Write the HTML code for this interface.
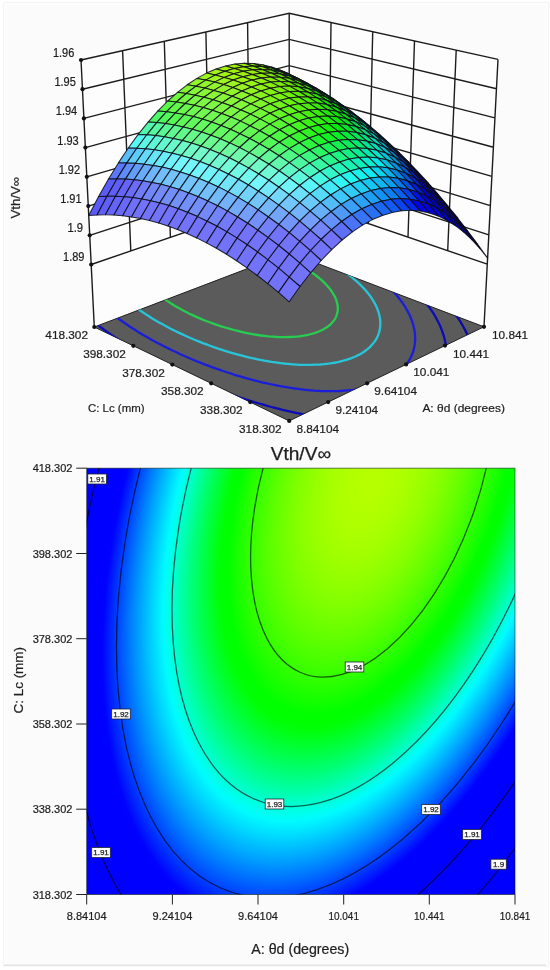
<!DOCTYPE html>
<html><head><meta charset="utf-8"><title>Vth/V∞</title><style>html,body{margin:0;padding:0;background:#ffffff}svg{display:block}</style></head><body>
<svg width="550" height="970" viewBox="0 0 550 970" font-family='"Liberation Sans", Arial, sans-serif' fill="#222">
<rect width="550" height="970" fill="#ffffff"/>
<rect x="3.5" y="2.5" width="545" height="963.5" fill="#fdfdfd" stroke="#f4f4f4" stroke-width="1"/>
<rect x="7" y="5" width="538.5" height="959.5" fill="#fbfbfb"/>
<polygon points="81.0,60.0 289.2,13.2 498.0,59.4 484.0,326.8 289.2,252.7 94.3,327.0" fill="#fdfdfd"/>
<path d="M91.2,264.5L289.2,196.6L487.3,264.2M89.7,235.3L289.2,170.4L488.8,234.9M88.3,206.1L289.2,144.2L490.3,205.7M86.8,176.8L289.2,118.0L491.9,176.4M85.4,147.6L289.2,91.8L493.4,147.2M83.9,118.4L289.2,65.6L494.9,117.9M82.5,89.2L289.2,39.4L496.5,88.7M81.0,60.0L289.2,13.2L498.0,59.4M122.6,50.6L130.8,250.9M331.0,22.4L328.8,210.1M164.3,41.3L170.4,237.3M372.7,31.7L368.4,223.7M205.9,31.9L210.0,223.8M414.5,40.9L408.0,237.2M247.6,22.6L249.6,210.2M456.2,50.2L447.7,250.7M289.2,13.2L289.2,196.6M498.0,59.4L487.3,264.2M81.0,60.0L94.3,327.0M498.0,59.4L484.0,326.8" stroke="#1c1c1c" stroke-width="1.4" fill="none"/>
<polygon points="94.3,327.0 289.2,420.9 484.0,326.8 289.2,252.7" fill="#5b5b5b" stroke="#222" stroke-width="1"/>
<clipPath id="fc"><polygon points="94.3,327.0 289.2,420.9 484.0,326.8 289.2,252.7"/></clipPath>
<g clip-path="url(#fc)" fill="none" stroke-width="2.3">
<path d="M162.7,297.7L164.1,298.8L167.1,300.9L169.7,302.6L171.8,303.9L175.0,305.9L178.4,307.8L180.6,309.1L183.6,310.7L187.2,312.5L190.9,314.4L194.8,316.1L198.7,317.9L202.7,319.6L206.8,321.2L211.0,322.8L213.2,323.6L217.6,325.1L222.1,326.6L226.8,328.0L229.2,328.7L234.0,330.0L236.7,330.7L241.7,331.9L244.6,332.6L249.7,333.6L252.4,334.1L257.7,335.0L261.1,335.5L264.2,335.8L268.4,336.3L273.2,336.7L277.4,337.0L281.0,337.1L284.8,337.1L288.9,337.0L293.0,336.9L296.3,336.6L299.4,336.3L303.7,335.6L307.9,334.8L311.2,334.0L315.2,332.9L319.4,331.3L323.1,329.5L326.4,327.6L327.9,326.5L330.6,324.3L331.8,323.1L333.7,320.8L334.7,319.4L335.5,318.0L336.2,316.4L336.9,314.5L337.4,312.6L337.7,310.9L337.8,309.2L337.8,307.6L337.7,306.0L337.4,304.5L337.1,303.0L336.7,301.6L336.3,300.2L335.7,298.6L334.8,296.6L333.8,294.8L333.0,293.5L332.3,292.3L330.9,290.3L329.6,288.6L328.7,287.5L327.1,285.7L325.6,284.0L324.5,282.9L322.2,280.7L321.0,279.7L318.7,277.7L317.2,276.5L314.8,274.6L313.2,273.5L310.4,271.6L309.0,270.6L306.0,268.7L303.4,267.2L301.4,266.0L298.2,264.2L294.8,262.5L293.2,261.6L289.7,260.0L286.1,258.4L282.4,256.8L278.6,255.2" stroke="#28cc50"/>
<path d="M136.4,307.7L139.3,309.8L140.8,310.9L143.9,313.0L147.0,315.1L148.6,316.1L151.9,318.2L155.2,320.2L158.6,322.2L160.4,323.1L163.9,325.1L167.5,327.0L171.1,328.9L174.8,330.8L178.6,332.6L182.5,334.4L186.4,336.2L190.4,338.0L194.5,339.7L198.6,341.4L202.8,343.1L207.1,344.7L209.3,345.5L213.7,347.1L218.2,348.6L222.8,350.1L225.1,350.8L229.8,352.3L234.5,353.7L237.1,354.4L242.1,355.7L244.6,356.3L249.7,357.6L252.3,358.2L257.7,359.3L260.4,359.9L265.5,360.8L268.8,361.4L271.6,361.9L277.4,362.7L280.6,363.1L283.7,363.5L287.8,363.9L292.6,364.3L296.8,364.6L300.3,364.8L303.9,364.9L307.7,364.9L311.6,364.9L315.7,364.7L320.1,364.5L323.9,364.2L327.1,363.8L330.2,363.4L335.9,362.5L338.7,361.9L343.5,360.7L346.2,359.9L350.8,358.4L354.9,356.7L358.7,354.9L362.2,352.9L365.4,350.8L366.9,349.7L369.6,347.3L370.8,346.1L373.0,343.6L374.0,342.4L375.0,341.0L376.5,338.6L377.3,336.9L378.0,335.5L378.5,334.0L379.1,332.3L379.6,330.4L379.9,328.6L380.2,326.8L380.3,325.1L380.3,323.4L380.3,321.7L380.2,320.1L380.0,318.6L379.7,317.0L379.4,315.5L379.0,314.0L378.6,312.4L377.9,310.5L377.2,308.6L376.5,307.0L375.9,305.6L375.2,304.3L374.3,302.6L373.1,300.5L372.2,299.2L371.4,297.9L370.2,296.2L368.8,294.3L367.8,293.1L366.6,291.6L364.9,289.6L363.8,288.4L362.3,286.8L360.6,285.1L359.5,284.0L357.2,281.8L356.0,280.8L353.7,278.8L352.3,277.6L350.1,275.9L348.5,274.6L346.0,272.8L344.4,271.6L341.7,269.7" stroke="#28c4d8"/>
<path d="M400.9,370.5L403.0,368.4L404.2,367.1L406.3,364.5L407.3,363.2L408.4,361.5L409.9,359.1L410.7,357.6L411.4,356.1L412.1,354.6L412.9,352.4L413.5,350.4L414.0,348.6L414.3,347.0L414.6,345.4L414.8,343.7L415.0,342.1L415.1,340.4L415.2,338.7L415.1,337.0L415.0,335.3L414.9,333.5L414.7,331.8L414.4,330.0L414.0,328.1L413.6,326.5L413.3,325.0L412.8,323.5L412.4,322.1L411.9,320.6L411.1,318.7L410.3,316.7L409.6,315.1L408.9,313.7L408.3,312.4L407.3,310.6L406.1,308.5L405.3,307.2L404.5,305.9L403.4,304.2L402.0,302.2L401.1,301.0L400.2,299.7L398.4,297.5L397.4,296.2L396.4,295.0L394.4,292.7L393.4,291.6L392.1,290.3L390.1,288.2" stroke="#1a1ed8"/>
<path d="M114.8,315.9L117.7,318.1L119.2,319.2L122.2,321.3L124.6,323.0L126.9,324.5L130.0,326.7L133.3,328.8L134.9,329.8L138.2,331.9L141.6,333.9L145.0,335.9L146.8,337.0L150.3,338.9L153.9,340.9L157.5,342.9L161.2,344.8L164.9,346.7L168.7,348.6L172.5,350.5L176.4,352.3L180.4,354.2L184.4,356.0L188.4,357.7L192.5,359.5L196.7,361.2L200.9,362.9L205.2,364.6L207.4,365.4L211.8,367.1L216.2,368.7L220.7,370.2L223.0,371.0L227.6,372.5L232.3,374.0L234.6,374.8L239.4,376.2L244.2,377.6L246.7,378.3L251.7,379.7L254.2,380.3L259.3,381.6L262.0,382.3L267.1,383.4L269.8,384.0L275.2,385.1L277.9,385.7L282.9,386.6L286.4,387.2L289.3,387.7L294.8,388.5L298.2,388.9L301.2,389.3L305.5,389.8L310.5,390.3L314.0,390.6L317.4,390.8L320.8,391.0L324.4,391.1L328.3,391.2L332.3,391.2L336.2,391.1L339.9,391.0L344.1,390.7L348.7,390.3L353.4,389.8L356.5,389.4L359.4,388.9L365.1,387.8" stroke="#1a1ed8"/>
<path d="M446.3,348.5L446.1,346.8L445.9,345.2L445.6,343.6L445.3,342.1L444.9,340.4L444.5,338.5L444.0,336.6L443.4,334.7L442.8,333.0L442.3,331.6L441.8,330.1L441.2,328.7L440.5,326.8L439.6,324.8L438.8,323.2L438.1,321.8L437.4,320.5L436.4,318.6L435.3,316.5L434.5,315.2L433.7,313.9L432.6,312.2L431.3,310.1L430.4,308.9L429.5,307.6L427.9,305.5L426.8,304.0L425.9,302.8L424.3,300.9" stroke="#0c0cb8"/>
<path d="M213.0,387.8L215.4,388.7L219.8,390.4L224.2,392.0L228.7,393.6L231.0,394.4L235.5,396.0L240.1,397.6L242.5,398.3L247.2,399.9L251.9,401.3L254.3,402.1L259.1,403.5L263.3,404.7L266.5,405.6L271.5,407.0L274.0,407.6L279.1,408.9L281.7,409.6L286.9,410.8L289.5,411.4L294.9,412.6L297.6,413.1L302.3,414.1L305.8,414.7" stroke="#0c0cb8"/>
<path d="M95.5,323.2L96.9,324.3L98.4,325.4L98.9,325.9L99.8,326.6L101.3,327.7L102.8,328.8L104.3,329.9L105.1,330.5L105.8,331.0L107.3,332.1L108.9,333.2L110.4,334.3L112.0,335.4L112.6,335.8L113.6,336.5L115.1,337.6L116.7,338.6L118.4,339.7L120.0,340.8L121.6,341.8L121.7,341.9L123.3,342.9L124.9,344.0L126.6,345.0L128.3,346.1L130.0,347.1L131.7,348.2L133.4,349.2L134.2,349.7" stroke="#0c0cb8"/>
<path d="M468.7,337.6L468.1,336.2L467.9,335.8L467.4,334.8L466.9,333.8L466.8,333.4L466.1,332.1L465.9,331.7L465.4,330.7L464.8,329.6L464.7,329.3L464.0,328.0L463.7,327.4L463.3,326.7L462.5,325.3L462.5,325.3L461.8,324.0L461.2,323.1L461.0,322.7L460.2,321.4L459.9,320.9L459.4,320.2L458.6,318.9L458.5,318.7L457.7,317.6L457.0,316.5L456.9,316.4L456.0,315.1L455.4,314.3L455.1,313.9L454.2,312.6L453.8,312.0" stroke="#0a0aa8"/>
</g>
<g stroke="#0c0c18" stroke-opacity="0.88" stroke-width="1.05" stroke-linejoin="round">
<path d="M289.2,74.1L298.0,78.7L289.2,74.6L280.4,70.3z" fill="#12a700"/>
<path d="M280.3,70.6L289.2,74.1L280.4,70.3L271.5,67.0z" fill="#32be00"/>
<path d="M298.1,78.4L306.8,83.2L298.0,78.7L289.2,74.1z" fill="#0aa400"/>
<path d="M289.2,74.6L298.1,78.4L289.2,74.1L280.3,70.6z" fill="#2abc00"/>
<path d="M271.3,68.0L280.3,70.6L271.5,67.0L262.5,64.7z" fill="#52d000"/>
<path d="M307.1,83.1L315.8,88.1L306.8,83.2L298.1,78.4z" fill="#00a200"/>
<path d="M262.2,66.5L271.3,68.0L262.5,64.7L253.4,63.5z" fill="#6edc01"/>
<path d="M280.3,71.8L289.2,74.6L280.3,70.6L271.3,68.0z" fill="#4ace00"/>
<path d="M298.2,79.0L307.1,83.1L298.1,78.4L289.2,74.6z" fill="#20ba00"/>
<path d="M316.1,88.2L324.8,93.5L315.8,88.1L307.1,83.1z" fill="#00a014"/>
<path d="M271.2,70.1L280.3,71.8L271.3,68.0L262.2,66.5z" fill="#67db01"/>
<path d="M307.3,83.9L316.1,88.2L307.1,83.1L298.2,79.0z" fill="#15b800"/>
<path d="M253.0,66.1L262.2,66.5L253.4,63.5L244.2,63.2z" fill="#85e403"/>
<path d="M289.3,76.0L298.2,79.0L289.2,74.6L280.3,71.8z" fill="#41cd00"/>
<path d="M325.2,93.7L333.9,99.3L324.8,93.5L316.1,88.2z" fill="#009d2a"/>
<path d="M243.7,66.7L253.0,66.1L244.2,63.2L234.9,64.1z" fill="#95ea05"/>
<path d="M262.0,69.4L271.2,70.1L262.2,66.5L253.0,66.1z" fill="#7fe402"/>
<path d="M280.2,74.0L289.3,76.0L280.3,71.8L271.2,70.1z" fill="#5fda01"/>
<path d="M298.3,80.6L307.3,83.9L298.2,79.0L289.3,76.0z" fill="#35cb00"/>
<path d="M316.4,89.2L325.2,93.7L316.1,88.2L307.3,83.9z" fill="#08b600"/>
<path d="M334.4,99.7L343.0,105.6L333.9,99.3L325.2,93.7z" fill="#009b42"/>
<path d="M234.3,68.4L243.7,66.7L234.9,64.1L225.5,66.0z" fill="#9fee0a"/>
<path d="M252.7,69.7L262.0,69.4L253.0,66.1L243.7,66.7z" fill="#91ea05"/>
<path d="M271.0,73.0L280.2,74.0L271.2,70.1L262.0,69.4z" fill="#78e302"/>
<path d="M289.3,78.3L298.3,80.6L289.3,76.0L280.2,74.0z" fill="#54d901"/>
<path d="M307.5,85.6L316.4,89.2L307.3,83.9L298.3,80.6z" fill="#28c900"/>
<path d="M325.7,94.9L334.4,99.7L325.2,93.7L316.4,89.2z" fill="#00b40d"/>
<path d="M343.7,106.2L352.3,112.3L343.0,105.6L334.4,99.7z" fill="#00985c"/>
<path d="M224.9,71.2L234.3,68.4L225.5,66.0L216.0,69.0z" fill="#a3f010"/>
<path d="M243.3,71.2L252.7,69.7L243.7,66.7L234.3,68.4z" fill="#9dee09"/>
<path d="M261.7,73.2L271.0,73.0L262.0,69.4L252.7,69.7z" fill="#8be905"/>
<path d="M280.1,77.2L289.3,78.3L280.2,74.0L271.0,73.0z" fill="#6ee202"/>
<path d="M298.5,83.2L307.5,85.6L298.3,80.6L289.3,78.3z" fill="#47d701"/>
<path d="M316.8,91.1L325.7,94.9L316.4,89.2L307.5,85.6z" fill="#19c800"/>
<path d="M335.0,101.1L343.7,106.2L334.4,99.7L325.7,94.9z" fill="#00b22a"/>
<path d="M353.0,113.1L361.6,119.4L352.3,112.3L343.7,106.2z" fill="#009678"/>
<path d="M215.3,75.0L224.9,71.2L216.0,69.0L206.5,73.1z" fill="#a1f218"/>
<path d="M233.8,73.7L243.3,71.2L234.3,68.4L224.9,71.2z" fill="#a2f00f"/>
<path d="M252.3,74.4L261.7,73.2L252.7,69.7L243.3,71.2z" fill="#98ed09"/>
<path d="M270.8,77.0L280.1,77.2L271.0,73.0L261.7,73.2z" fill="#83e904"/>
<path d="M289.3,81.7L298.5,83.2L289.3,78.3L280.1,77.2z" fill="#62e102"/>
<path d="M307.7,88.4L316.8,91.1L307.5,85.6L298.5,83.2z" fill="#39d601"/>
<path d="M326.1,97.1L335.0,101.1L325.7,94.9L316.8,91.1z" fill="#09c600"/>
<path d="M344.3,107.8L353.0,113.1L343.7,106.2L335.0,101.1z" fill="#00b04a"/>
<path d="M362.4,120.5L370.9,127.1L361.6,119.4L353.0,113.1z" fill="#009293"/>
<path d="M205.7,80.1L215.3,75.0L206.5,73.1L196.9,78.4z" fill="#9bf421"/>
<path d="M224.2,77.4L233.8,73.7L224.9,71.2L215.3,75.0z" fill="#a2f217"/>
<path d="M242.8,76.7L252.3,74.4L243.3,71.2L233.8,73.7z" fill="#9ff00f"/>
<path d="M261.4,78.0L270.8,77.0L261.7,73.2L252.3,74.4z" fill="#91ed08"/>
<path d="M280.0,81.4L289.3,81.7L280.1,77.2L270.8,77.0z" fill="#78e804"/>
<path d="M298.6,86.7L307.7,88.4L298.5,83.2L289.3,81.7z" fill="#55e002"/>
<path d="M317.1,94.1L326.1,97.1L316.8,91.1L307.7,88.4z" fill="#28d501"/>
<path d="M335.5,103.5L344.3,107.8L335.0,101.1L326.1,97.1z" fill="#00c412"/>
<path d="M353.8,114.9L362.4,120.5L353.0,113.1L344.3,107.8z" fill="#00ae6c"/>
<path d="M371.9,128.4L380.3,135.2L370.9,127.1L362.4,120.5z" fill="#007491"/>
<path d="M214.6,82.1L224.2,77.4L215.3,75.0L205.7,80.1z" fill="#9df421"/>
<path d="M251.9,80.1L261.4,78.0L252.3,74.4L242.8,76.7z" fill="#9af00e"/>
<path d="M289.3,86.1L298.6,86.7L289.3,81.7L280.0,81.4z" fill="#6ce704"/>
<path d="M326.5,100.3L335.5,103.5L326.1,97.1L317.1,94.1z" fill="#16d301"/>
<path d="M363.3,122.5L371.9,128.4L362.4,120.5L353.8,114.9z" fill="#00ab91"/>
<path d="M196.0,86.2L205.7,80.1L196.9,78.4L187.2,84.8z" fill="#90f52b"/>
<path d="M233.2,80.1L242.8,76.7L233.8,73.7L224.2,77.4z" fill="#a1f217"/>
<path d="M270.6,82.1L280.0,81.4L270.8,77.0L261.4,78.0z" fill="#88ed08"/>
<path d="M308.0,92.2L317.1,94.1L307.7,88.4L298.6,86.7z" fill="#45df02"/>
<path d="M345.0,110.4L353.8,114.9L344.3,107.8L335.5,103.5z" fill="#00c237"/>
<path d="M381.4,136.7L389.8,143.8L380.3,135.2L371.9,128.4z" fill="#00568e"/>
<path d="M186.2,93.5L196.0,86.2L187.2,84.8L177.5,92.3z" fill="#81f635"/>
<path d="M204.8,88.1L214.6,82.1L205.7,80.1L196.0,86.2z" fill="#93f52c"/>
<path d="M223.6,84.6L233.2,80.1L224.2,77.4L214.6,82.1z" fill="#9df421"/>
<path d="M242.3,83.3L251.9,80.1L242.8,76.7L233.2,80.1z" fill="#9df216"/>
<path d="M261.1,83.9L270.6,82.1L261.4,78.0L251.9,80.1z" fill="#93f00e"/>
<path d="M279.9,86.6L289.3,86.1L280.0,81.4L270.6,82.1z" fill="#7dec07"/>
<path d="M298.7,91.3L308.0,92.2L298.6,86.7L289.3,86.1z" fill="#5de703"/>
<path d="M317.4,98.1L326.5,100.3L317.1,94.1L308.0,92.2z" fill="#33de01"/>
<path d="M336.0,106.9L345.0,110.4L335.5,103.5L326.5,100.3z" fill="#02d200"/>
<path d="M354.5,117.7L363.3,122.5L353.8,114.9L345.0,110.4z" fill="#00c05e"/>
<path d="M372.9,130.6L381.4,136.7L371.9,128.4L363.3,122.5z" fill="#009ea9"/>
<path d="M391.0,145.5L399.4,152.9L389.8,143.8L381.4,136.7z" fill="#00368c"/>
<path d="M232.7,87.6L242.3,83.3L233.2,80.1L223.6,84.6z" fill="#9bf421"/>
<path d="M270.4,88.2L279.9,86.6L270.6,82.1L261.1,83.9z" fill="#89ef0d"/>
<path d="M308.2,97.0L317.4,98.1L308.0,92.2L298.7,91.3z" fill="#4ce603"/>
<path d="M345.6,114.0L354.5,117.7L345.0,110.4L336.0,106.9z" fill="#00d027"/>
<path d="M176.4,102.0L186.2,93.5L177.5,92.3L167.7,101.0z" fill="#6ff63e"/>
<path d="M195.1,95.2L204.8,88.1L196.0,86.2L186.2,93.5z" fill="#86f636"/>
<path d="M213.8,90.4L223.6,84.6L214.6,82.1L204.8,88.1z" fill="#95f52c"/>
<path d="M251.5,86.9L261.1,83.9L251.9,80.1L242.3,83.3z" fill="#97f216"/>
<path d="M289.3,91.6L298.7,91.3L289.3,86.1L279.9,86.6z" fill="#70ec07"/>
<path d="M326.9,104.5L336.0,106.9L326.5,100.3L317.4,98.1z" fill="#1fdd01"/>
<path d="M364.1,125.6L372.9,130.6L363.3,122.5L354.5,117.7z" fill="#00be88"/>
<path d="M382.5,139.2L391.0,145.5L381.4,136.7L372.9,130.6z" fill="#007aa7"/>
<path d="M400.7,154.9L409.0,162.5L399.4,152.9L391.0,145.5z" fill="#001689"/>
<path d="M166.6,111.7L176.4,102.0L167.7,101.0L157.9,110.9z" fill="#59f747"/>
<path d="M185.2,103.5L195.1,95.2L186.2,93.5L176.4,102.0z" fill="#76f640"/>
<path d="M204.0,97.2L213.8,90.4L204.8,88.1L195.1,95.2z" fill="#89f637"/>
<path d="M222.9,93.1L232.7,87.6L223.6,84.6L213.8,90.4z" fill="#95f52c"/>
<path d="M241.9,91.0L251.5,86.9L242.3,83.3L232.7,87.6z" fill="#97f420"/>
<path d="M260.8,90.9L270.4,88.2L261.1,83.9L251.5,86.9z" fill="#8ff215"/>
<path d="M279.8,92.9L289.3,91.6L279.9,86.6L270.4,88.2z" fill="#7def0c"/>
<path d="M298.8,97.0L308.2,97.0L298.7,91.3L289.3,91.6z" fill="#60eb06"/>
<path d="M317.7,103.1L326.9,104.5L317.4,98.1L308.2,97.0z" fill="#39e503"/>
<path d="M336.5,111.3L345.6,114.0L336.0,106.9L326.9,104.5z" fill="#09dc01"/>
<path d="M355.3,121.6L364.1,125.6L354.5,117.7L345.6,114.0z" fill="#00ce53"/>
<path d="M373.8,133.9L382.5,139.2L372.9,130.6L364.1,125.6z" fill="#00bcb5"/>
<path d="M392.2,148.3L400.7,154.9L391.0,145.5L382.5,139.2z" fill="#0054a4"/>
<path d="M410.4,164.7L418.6,172.6L409.0,162.5L400.7,154.9z" fill="#000087"/>
<path d="M156.7,122.6L166.6,111.7L157.9,110.9L148.1,122.1z" fill="#4df765"/>
<path d="M175.4,112.9L185.2,103.5L176.4,102.0L166.6,111.7z" fill="#62f749"/>
<path d="M194.2,105.3L204.0,97.2L195.1,95.2L185.2,103.5z" fill="#7bf642"/>
<path d="M213.1,99.7L222.9,93.1L213.8,90.4L204.0,97.2z" fill="#8bf638"/>
<path d="M232.1,96.2L241.9,91.0L232.7,87.6L222.9,93.1z" fill="#92f52c"/>
<path d="M251.2,94.8L260.8,90.9L251.5,86.9L241.9,91.0z" fill="#90f31f"/>
<path d="M270.2,95.4L279.8,92.9L270.4,88.2L260.8,90.9z" fill="#85f214"/>
<path d="M289.3,98.1L298.8,97.0L289.3,91.6L279.8,92.9z" fill="#6fef0b"/>
<path d="M308.4,102.9L317.7,103.1L308.2,97.0L298.8,97.0z" fill="#4eeb06"/>
<path d="M327.4,109.7L336.5,111.3L326.9,104.5L317.7,103.1z" fill="#24e403"/>
<path d="M346.2,118.7L355.3,121.6L345.6,114.0L336.5,111.3z" fill="#01db1e"/>
<path d="M365.0,129.6L373.8,133.9L364.1,125.6L355.3,121.6z" fill="#00cd82"/>
<path d="M383.6,142.7L392.2,148.3L382.5,139.2L373.8,133.9z" fill="#0099ba"/>
<path d="M402.0,157.8L410.4,164.7L400.7,154.9L392.2,148.3z" fill="#002da2"/>
<path d="M420.2,175.0L428.3,183.2L418.6,172.6L410.4,164.7z" fill="#000084"/>
<path d="M146.8,134.8L156.7,122.6L148.1,122.1L138.2,134.4z" fill="#52f7ab"/>
<path d="M165.4,123.6L175.4,112.9L166.6,111.7L156.7,122.6z" fill="#51f75b"/>
<path d="M184.3,114.6L194.2,105.3L185.2,103.5L175.4,112.9z" fill="#69f74c"/>
<path d="M203.2,107.6L213.1,99.7L204.0,97.2L194.2,105.3z" fill="#7ef744"/>
<path d="M222.3,102.7L232.1,96.2L222.9,93.1L213.1,99.7z" fill="#8af639"/>
<path d="M241.4,99.8L251.2,94.8L241.9,91.0L232.1,96.2z" fill="#8df52b"/>
<path d="M260.6,99.1L270.2,95.4L260.8,90.9L251.2,94.8z" fill="#88f31e"/>
<path d="M279.7,100.4L289.3,98.1L279.8,92.9L270.2,95.4z" fill="#78f113"/>
<path d="M298.9,103.8L308.4,102.9L298.8,97.0L289.3,98.1z" fill="#5eee0b"/>
<path d="M318.0,109.3L327.4,109.7L317.7,103.1L308.4,102.9z" fill="#3aea05"/>
<path d="M337.1,116.8L346.2,118.7L336.5,111.3L327.4,109.7z" fill="#0de302"/>
<path d="M356.0,126.5L365.0,129.6L355.3,121.6L346.2,118.7z" fill="#01d94d"/>
<path d="M374.8,138.2L383.6,142.7L373.8,133.9L365.0,129.6z" fill="#00cbb3"/>
<path d="M393.4,152.0L402.0,157.8L392.2,148.3L383.6,142.7z" fill="#006eb8"/>
<path d="M411.8,167.9L420.2,175.0L410.4,164.7L402.0,157.8z" fill="#0005a0"/>
<path d="M430.0,185.9L438.1,194.3L428.3,183.2L420.2,175.0z" fill="#000082"/>
<path d="M136.8,148.2L146.8,134.8L138.2,134.4L128.3,148.0z" fill="#56f8f4"/>
<path d="M155.5,135.6L165.4,123.6L156.7,122.6L146.8,134.8z" fill="#56f89e"/>
<path d="M174.3,125.1L184.3,114.6L175.4,112.9L165.4,123.6z" fill="#54f754"/>
<path d="M193.3,116.6L203.2,107.6L194.2,105.3L184.3,114.6z" fill="#6ef74e"/>
<path d="M212.4,110.3L222.3,102.7L213.1,99.7L203.2,107.6z" fill="#7ff745"/>
<path d="M231.5,106.0L241.4,99.8L232.1,96.2L222.3,102.7z" fill="#87f639"/>
<path d="M250.8,103.9L260.6,99.1L251.2,94.8L241.4,99.8z" fill="#87f52b"/>
<path d="M270.1,103.8L279.7,100.4L270.2,95.4L260.6,99.1z" fill="#7df31d"/>
<path d="M289.3,105.8L298.9,103.8L289.3,98.1L279.7,100.4z" fill="#6af112"/>
<path d="M308.6,109.9L318.0,109.3L308.4,102.9L298.9,103.8z" fill="#4cee0a"/>
<path d="M327.8,116.1L337.1,116.8L327.4,109.7L318.0,109.3z" fill="#24e905"/>
<path d="M346.9,124.4L356.0,126.5L346.2,118.7L337.1,116.8z" fill="#02e21d"/>
<path d="M365.8,134.8L374.8,138.2L365.0,129.6L356.0,126.5z" fill="#01d880"/>
<path d="M384.7,147.3L393.4,152.0L383.6,142.7L374.8,138.2z" fill="#00b1c9"/>
<path d="M403.3,161.9L411.8,167.9L402.0,157.8L393.4,152.0z" fill="#0042b6"/>
<path d="M421.7,178.6L430.0,185.9L420.2,175.0L411.8,167.9z" fill="#00009d"/>
<path d="M439.9,197.3L447.9,206.0L438.1,194.3L430.0,185.9z" fill="#00007f"/>
<path d="M145.5,148.8L155.5,135.6L146.8,134.8L136.8,148.2z" fill="#5bf8e4"/>
<path d="M183.3,126.9L193.3,116.6L184.3,114.6L174.3,125.1z" fill="#5bf857"/>
<path d="M221.6,113.4L231.5,106.0L222.3,102.7L212.4,110.3z" fill="#7ef746"/>
<path d="M260.3,108.4L270.1,103.8L260.6,99.1L250.8,103.9z" fill="#7ef52a"/>
<path d="M279.7,109.0L289.3,105.8L279.7,100.4L270.1,103.8z" fill="#70f31c"/>
<path d="M299.0,111.7L308.6,109.9L298.9,103.8L289.3,105.8z" fill="#58f111"/>
<path d="M318.3,116.5L327.8,116.1L318.0,109.3L308.6,109.9z" fill="#37ee09"/>
<path d="M356.7,132.5L365.8,134.8L356.0,126.5L346.9,124.4z" fill="#02e150"/>
<path d="M394.6,156.9L403.3,161.9L393.4,152.0L384.7,147.3z" fill="#0082c7"/>
<path d="M431.7,189.7L439.9,197.3L430.0,185.9L421.7,178.6z" fill="#00009b"/>
<path d="M126.9,162.9L136.8,148.2L128.3,148.0L118.4,162.9z" fill="#59bcf8"/>
<path d="M164.3,136.8L174.3,125.1L165.4,123.6L155.5,135.6z" fill="#5af895"/>
<path d="M202.4,119.1L212.4,110.3L203.2,107.6L193.3,116.6z" fill="#71f750"/>
<path d="M240.9,109.9L250.8,103.9L241.4,99.8L231.5,106.0z" fill="#82f638"/>
<path d="M337.6,123.5L346.9,124.4L337.1,116.8L327.8,116.1z" fill="#0be904"/>
<path d="M375.7,143.6L384.7,147.3L374.8,138.2L365.8,134.8z" fill="#01d6b5"/>
<path d="M413.2,172.2L421.7,178.6L411.8,167.9L403.3,161.9z" fill="#0013b4"/>
<path d="M449.8,209.3L457.8,218.2L447.9,206.0L439.9,197.3z" fill="#00007d"/>
<path d="M135.5,163.3L145.5,148.8L136.8,148.2L126.9,162.9z" fill="#5dcdf8"/>
<path d="M173.2,138.5L183.3,126.9L174.3,125.1L164.3,136.8z" fill="#5ef88f"/>
<path d="M211.6,122.1L221.6,113.4L212.4,110.3L202.4,119.1z" fill="#72f752"/>
<path d="M250.4,114.1L260.3,108.4L250.8,103.9L240.9,109.9z" fill="#7bf638"/>
<path d="M289.3,114.7L299.0,111.7L289.3,105.8L279.7,109.0z" fill="#61f31a"/>
<path d="M328.2,123.6L337.6,123.5L327.8,116.1L318.3,116.5z" fill="#20ed08"/>
<path d="M366.7,141.1L375.7,143.6L365.8,134.8L356.7,132.5z" fill="#02e085"/>
<path d="M404.6,167.0L413.2,172.2L403.3,161.9L394.6,156.9z" fill="#0051c5"/>
<path d="M441.7,201.4L449.8,209.3L439.9,197.3L431.7,189.7z" fill="#000098"/>
<path d="M116.9,178.9L126.9,162.9L118.4,162.9L108.5,179.1z" fill="#5a79f8"/>
<path d="M154.3,149.8L164.3,136.8L155.5,135.6L145.5,148.8z" fill="#5ff8d7"/>
<path d="M192.4,129.2L202.4,119.1L193.3,116.6L183.3,126.9z" fill="#60f85a"/>
<path d="M231.0,117.1L240.9,109.9L231.5,106.0L221.6,113.4z" fill="#7bf746"/>
<path d="M269.9,113.3L279.7,109.0L270.1,103.8L260.3,108.4z" fill="#73f428"/>
<path d="M308.8,118.1L318.3,116.5L308.6,109.9L299.0,111.7z" fill="#45f010"/>
<path d="M347.5,131.3L356.7,132.5L346.9,124.4L337.6,123.5z" fill="#04e827"/>
<path d="M385.7,153.0L394.6,156.9L384.7,147.3L375.7,143.6z" fill="#01c0d5"/>
<path d="M423.2,183.1L431.7,189.7L421.7,178.6L413.2,172.2z" fill="#0000b1"/>
<path d="M459.8,221.8L467.7,231.0L457.8,218.2L449.8,209.3z" fill="#00007a"/>
<path d="M107.0,196.2L116.9,178.9L108.5,179.1L98.6,196.6z" fill="#5b5bf8"/>
<path d="M125.5,179.1L135.5,163.3L126.9,162.9L116.9,178.9z" fill="#5f8cf8"/>
<path d="M144.2,164.2L154.3,149.8L145.5,148.8L135.5,163.3z" fill="#62daf8"/>
<path d="M163.2,151.3L173.2,138.5L164.3,136.8L154.3,149.8z" fill="#63f8ce"/>
<path d="M182.3,140.6L192.4,129.2L183.3,126.9L173.2,138.5z" fill="#62f88b"/>
<path d="M201.6,132.0L211.6,122.1L202.4,119.1L192.4,129.2z" fill="#63f85d"/>
<path d="M221.0,125.5L231.0,117.1L221.6,113.4L211.6,122.1z" fill="#71f753"/>
<path d="M240.4,121.1L250.4,114.1L240.9,109.9L231.0,117.1z" fill="#76f746"/>
<path d="M260.0,118.9L269.9,113.3L260.3,108.4L250.4,114.1z" fill="#72f637"/>
<path d="M279.6,118.8L289.3,114.7L279.7,109.0L269.9,113.3z" fill="#65f427"/>
<path d="M299.1,120.8L308.8,118.1L299.0,111.7L289.3,114.7z" fill="#4ff319"/>
<path d="M318.6,125.0L328.2,123.6L318.3,116.5L308.8,118.1z" fill="#2ff00e"/>
<path d="M338.1,131.3L347.5,131.3L337.6,123.5L328.2,123.6z" fill="#07ec0a"/>
<path d="M357.5,139.7L366.7,141.1L356.7,132.5L347.5,131.3z" fill="#03e75b"/>
<path d="M376.7,150.2L385.7,153.0L375.7,143.6L366.7,141.1z" fill="#01dfbe"/>
<path d="M395.8,162.9L404.6,167.0L394.6,156.9L385.7,153.0z" fill="#018ed3"/>
<path d="M414.7,177.7L423.2,183.1L413.2,172.2L404.6,167.0z" fill="#001ec3"/>
<path d="M433.3,194.6L441.7,201.4L431.7,189.7L423.2,183.1z" fill="#0000af"/>
<path d="M451.7,213.6L459.8,221.8L449.8,209.3L441.7,201.4z" fill="#000096"/>
<path d="M469.8,234.8L477.6,244.3L467.7,231.0L459.8,221.8z" fill="#000078"/>
<path d="M97.0,214.9L107.0,196.2L98.6,196.6L88.7,215.5z" fill="#5a5af8"/>
<path d="M115.5,196.3L125.5,179.1L116.9,178.9L107.0,196.2z" fill="#5f5ff8"/>
<path d="M134.1,179.8L144.2,164.2L135.5,163.3L125.5,179.1z" fill="#649df8"/>
<path d="M153.1,165.4L163.2,151.3L154.3,149.8L144.2,164.2z" fill="#67e4f8"/>
<path d="M172.2,153.2L182.3,140.6L173.2,138.5L163.2,151.3z" fill="#68f8c9"/>
<path d="M191.5,143.1L201.6,132.0L192.4,129.2L182.3,140.6z" fill="#65f88b"/>
<path d="M210.9,135.2L221.0,125.5L211.6,122.1L201.6,132.0z" fill="#64f85f"/>
<path d="M230.4,129.3L240.4,121.1L231.0,117.1L221.0,125.5z" fill="#6ef754"/>
<path d="M250.0,125.7L260.0,118.9L250.4,114.1L240.4,121.1z" fill="#6ff746"/>
<path d="M269.7,124.1L279.6,118.8L269.9,113.3L260.0,118.9z" fill="#67f635"/>
<path d="M289.3,124.7L299.1,120.8L289.3,114.7L279.6,118.8z" fill="#56f425"/>
<path d="M309.0,127.5L318.6,125.0L308.8,118.1L299.1,120.8z" fill="#3bf217"/>
<path d="M328.6,132.3L338.1,131.3L328.2,123.6L318.6,125.0z" fill="#17f00d"/>
<path d="M348.1,139.4L357.5,139.7L347.5,131.3L338.1,131.3z" fill="#07ec3c"/>
<path d="M367.5,148.5L376.7,150.2L366.7,141.1L357.5,139.7z" fill="#03e693"/>
<path d="M386.8,159.8L395.8,162.9L385.7,153.0L376.7,150.2z" fill="#01c6dd"/>
<path d="M405.9,173.3L414.7,177.7L404.6,167.0L395.8,162.9z" fill="#0059d2"/>
<path d="M424.8,188.8L433.3,194.6L423.2,183.1L414.7,177.7z" fill="#0000c1"/>
<path d="M443.4,206.6L451.7,213.6L441.7,201.4L433.3,194.6z" fill="#0000ad"/>
<path d="M461.8,226.4L469.8,234.8L459.8,221.8L451.7,213.6z" fill="#000094"/>
<path d="M479.9,248.5L487.6,258.1L477.6,244.3L469.8,234.8z" fill="#000076"/>
<path d="M105.4,214.8L115.5,196.3L107.0,196.2L97.0,214.9z" fill="#5f5ff8"/>
<path d="M142.9,180.8L153.1,165.4L144.2,164.2L134.1,179.8z" fill="#69abf8"/>
<path d="M181.3,155.5L191.5,143.1L182.3,140.6L172.2,153.2z" fill="#6cf9c6"/>
<path d="M220.3,138.8L230.4,129.3L221.0,125.5L210.9,135.2z" fill="#64f861"/>
<path d="M259.7,130.7L269.7,124.1L260.0,118.9L250.0,125.7z" fill="#66f745"/>
<path d="M318.9,134.6L328.6,132.3L318.6,125.0L309.0,127.5z" fill="#25f216"/>
<path d="M358.2,148.0L367.5,148.5L357.5,139.7L348.1,139.4z" fill="#06eb71"/>
<path d="M397.0,170.0L405.9,173.3L395.8,162.9L386.8,159.8z" fill="#0191dc"/>
<path d="M435.0,200.6L443.4,206.6L433.3,194.6L424.8,188.8z" fill="#0000bf"/>
<path d="M472.0,239.8L479.9,248.5L469.8,234.8L461.8,226.4z" fill="#000091"/>
<path d="M124.1,196.7L134.1,179.8L125.5,179.1L115.5,196.3z" fill="#6464f8"/>
<path d="M162.0,167.1L172.2,153.2L163.2,151.3L153.1,165.4z" fill="#6becf9"/>
<path d="M200.7,146.1L210.9,135.2L201.6,132.0L191.5,143.1z" fill="#68f88d"/>
<path d="M240.0,133.7L250.0,125.7L240.4,121.1L230.4,129.3z" fill="#69f755"/>
<path d="M279.5,129.8L289.3,124.7L279.6,118.8L269.7,124.1z" fill="#5af534"/>
<path d="M299.2,131.2L309.0,127.5L299.1,120.8L289.3,124.7z" fill="#44f423"/>
<path d="M338.6,140.2L348.1,139.4L338.1,131.3L328.6,132.3z" fill="#0cef28"/>
<path d="M377.7,157.9L386.8,159.8L376.7,150.2L367.5,148.5z" fill="#03e5cf"/>
<path d="M416.1,184.2L424.8,188.8L414.7,177.7L405.9,173.3z" fill="#0022d0"/>
<path d="M453.6,219.1L461.8,226.4L451.7,213.6L443.4,206.6z" fill="#0000ab"/>
<path d="M132.8,197.6L142.9,180.8L134.1,179.8L124.1,196.7z" fill="#6a6cf9"/>
<path d="M171.1,169.3L181.3,155.5L172.2,153.2L162.0,167.1z" fill="#70f1f9"/>
<path d="M210.1,149.5L220.3,138.8L210.9,135.2L200.7,146.1z" fill="#6bf992"/>
<path d="M249.6,138.5L259.7,130.7L250.0,125.7L240.0,133.7z" fill="#63f755"/>
<path d="M329.0,142.3L338.6,140.2L328.6,132.3L318.9,134.6z" fill="#14f223"/>
<path d="M368.4,157.1L377.7,157.9L367.5,148.5L358.2,148.0z" fill="#06eaab"/>
<path d="M407.2,180.7L416.1,184.2L405.9,173.3L397.0,170.0z" fill="#0159db"/>
<path d="M445.2,212.9L453.6,219.1L443.4,206.6L435.0,200.6z" fill="#0000bd"/>
<path d="M114.0,215.0L124.1,196.7L115.5,196.3L105.4,214.8z" fill="#6464f8"/>
<path d="M151.9,182.4L162.0,167.1L153.1,165.4L142.9,180.8z" fill="#6eb6f9"/>
<path d="M190.6,158.3L200.7,146.1L191.5,143.1L181.3,155.5z" fill="#70f9c5"/>
<path d="M229.8,142.9L240.0,133.7L230.4,129.3L220.3,138.8z" fill="#62f864"/>
<path d="M269.5,136.2L279.5,129.8L269.7,124.1L259.7,130.7z" fill="#5bf644"/>
<path d="M289.3,136.0L299.2,131.2L289.3,124.7L279.5,129.8z" fill="#4af532"/>
<path d="M309.2,138.1L318.9,134.6L309.0,127.5L299.2,131.2z" fill="#30f421"/>
<path d="M348.7,148.6L358.2,148.0L348.1,139.4L338.6,140.2z" fill="#0bef5a"/>
<path d="M387.9,167.8L397.0,170.0L386.8,159.8L377.7,157.9z" fill="#02c2e4"/>
<path d="M426.3,195.7L435.0,200.6L424.8,188.8L416.1,184.2z" fill="#0000ce"/>
<path d="M463.8,232.2L472.0,239.8L461.8,226.4L453.6,219.1z" fill="#0000a8"/>
<path d="M122.7,215.7L132.8,197.6L124.1,196.7L114.0,215.0z" fill="#6969f9"/>
<path d="M141.7,198.9L151.9,182.4L142.9,180.8L132.8,197.6z" fill="#6f7bf9"/>
<path d="M160.9,184.3L171.1,169.3L162.0,167.1L151.9,182.4z" fill="#73bef9"/>
<path d="M180.3,171.9L190.6,158.3L181.3,155.5L171.1,169.3z" fill="#73f4f9"/>
<path d="M199.9,161.6L210.1,149.5L200.7,146.1L190.6,158.3z" fill="#73f9c7"/>
<path d="M219.7,153.5L229.8,142.9L220.3,138.8L210.1,149.5z" fill="#6ef998"/>
<path d="M239.5,147.5L249.6,138.5L240.0,133.7L229.8,142.9z" fill="#63f86e"/>
<path d="M259.4,143.8L269.5,136.2L259.7,130.7L249.6,138.5z" fill="#5af754"/>
<path d="M279.3,142.2L289.3,136.0L279.5,129.8L269.5,136.2z" fill="#4df642"/>
<path d="M299.3,142.7L309.2,138.1L299.2,131.2L289.3,136.0z" fill="#38f530"/>
<path d="M319.2,145.5L329.0,142.3L318.9,134.6L309.2,138.1z" fill="#1ff32b"/>
<path d="M339.1,150.4L348.7,148.6L338.6,140.2L329.0,142.3z" fill="#13f151"/>
<path d="M358.9,157.5L368.4,157.1L358.2,148.0L348.7,148.6z" fill="#0aee91"/>
<path d="M378.6,166.8L387.9,167.8L377.7,157.9L368.4,157.1z" fill="#05eae9"/>
<path d="M398.1,178.3L407.2,180.7L397.0,170.0L387.9,167.8z" fill="#028ae3"/>
<path d="M417.5,191.9L426.3,195.7L416.1,184.2L407.2,180.7z" fill="#011ed9"/>
<path d="M436.6,207.8L445.2,212.9L435.0,200.6L426.3,195.7z" fill="#0000cc"/>
<path d="M455.5,225.7L463.8,232.2L453.6,219.1L445.2,212.9z" fill="#0000bb"/>
<path d="M131.5,216.9L141.7,198.9L132.8,197.6L122.7,215.7z" fill="#6f6ff9"/>
<path d="M150.7,200.7L160.9,184.3L151.9,182.4L141.7,198.9z" fill="#7386f9"/>
<path d="M170.1,186.7L180.3,171.9L171.1,169.3L160.9,184.3z" fill="#73c2f9"/>
<path d="M189.7,174.9L199.9,161.6L190.6,158.3L180.3,171.9z" fill="#73f5f9"/>
<path d="M209.4,165.3L219.7,153.5L210.1,149.5L199.9,161.6z" fill="#73f9ca"/>
<path d="M229.3,157.8L239.5,147.5L229.8,142.9L219.7,153.5z" fill="#6ff9a1"/>
<path d="M249.2,152.6L259.4,143.8L249.6,138.5L239.5,147.5z" fill="#63f87b"/>
<path d="M269.3,149.5L279.3,142.2L269.5,136.2L259.4,143.8z" fill="#53f75a"/>
<path d="M289.3,148.6L299.3,142.7L289.3,136.0L279.3,142.2z" fill="#40f644"/>
<path d="M309.4,150.0L319.2,145.5L309.2,138.1L299.3,142.7z" fill="#2df540"/>
<path d="M329.4,153.4L339.1,150.4L329.0,142.3L319.2,145.5z" fill="#1df354"/>
<path d="M349.3,159.1L358.9,157.5L348.7,148.6L339.1,150.4z" fill="#11f183"/>
<path d="M369.2,167.0L378.6,166.8L368.4,157.1L358.9,157.5z" fill="#09eecc"/>
<path d="M388.9,177.1L398.1,178.3L387.9,167.8L378.6,166.8z" fill="#04b4e9"/>
<path d="M408.5,189.3L417.5,191.9L407.2,180.7L398.1,178.3z" fill="#0250e2"/>
<path d="M427.8,203.7L436.6,207.8L426.3,195.7L417.5,191.9z" fill="#0101d8"/>
<path d="M447.0,220.4L455.5,225.7L445.2,212.9L436.6,207.8z" fill="#0000cb"/>
<path d="M140.4,218.5L150.7,200.7L141.7,198.9L131.5,216.9z" fill="#7373f9"/>
<path d="M179.4,189.6L189.7,174.9L180.3,171.9L170.1,186.7z" fill="#73c4f9"/>
<path d="M219.0,169.5L229.3,157.8L219.7,153.5L209.4,165.3z" fill="#73f9cf"/>
<path d="M359.6,168.4L369.2,167.0L358.9,157.5L349.3,159.1z" fill="#10f0ba"/>
<path d="M399.3,187.8L408.5,189.3L398.1,178.3L388.9,177.1z" fill="#047be8"/>
<path d="M438.3,216.1L447.0,220.4L436.6,207.8L427.8,203.7z" fill="#0101d6"/>
<path d="M159.8,202.9L170.1,186.7L160.9,184.3L150.7,200.7z" fill="#738bf9"/>
<path d="M199.1,178.4L209.4,165.3L199.9,161.6L189.7,174.9z" fill="#73f4f9"/>
<path d="M239.0,162.7L249.2,152.6L239.5,147.5L229.3,157.8z" fill="#71f9ab"/>
<path d="M259.1,158.2L269.3,149.5L259.4,143.8L249.2,152.6z" fill="#63f889"/>
<path d="M279.2,155.8L289.3,148.6L279.3,142.2L269.3,149.5z" fill="#51f76e"/>
<path d="M299.4,155.6L309.4,150.0L299.3,142.7L289.3,148.6z" fill="#3ef660"/>
<path d="M319.5,157.7L329.4,153.4L319.2,145.5L309.4,150.0z" fill="#2bf564"/>
<path d="M339.6,161.9L349.3,159.1L339.1,150.4L329.4,153.4z" fill="#1bf382"/>
<path d="M379.5,177.0L388.9,177.1L378.6,166.8L369.2,167.0z" fill="#08d5ed"/>
<path d="M418.9,200.9L427.8,203.7L417.5,191.9L408.5,189.3z" fill="#0213e1"/>
<path d="M169.0,205.6L179.4,189.6L170.1,186.7L159.8,202.9z" fill="#738ef9"/>
<path d="M208.7,182.4L219.0,169.5L209.4,165.3L199.1,178.4z" fill="#73f1f9"/>
<path d="M370.0,178.1L379.5,177.0L369.2,167.0L359.6,168.4z" fill="#0eebf0"/>
<path d="M409.8,199.2L418.9,200.9L408.5,189.3L399.3,187.8z" fill="#043fe7"/>
<path d="M149.5,220.5L159.8,202.9L150.7,200.7L140.4,218.5z" fill="#7373f9"/>
<path d="M188.8,192.9L199.1,178.4L189.7,174.9L179.4,189.6z" fill="#73c5f9"/>
<path d="M228.7,174.2L239.0,162.7L229.3,157.8L219.0,169.5z" fill="#73f9d7"/>
<path d="M248.9,168.1L259.1,158.2L249.2,152.6L239.0,162.7z" fill="#72f9b7"/>
<path d="M269.1,164.2L279.2,155.8L269.3,149.5L259.1,158.2z" fill="#62f89a"/>
<path d="M289.3,162.6L299.4,155.6L289.3,148.6L279.2,155.8z" fill="#4ff785"/>
<path d="M309.6,163.1L319.5,157.7L309.4,150.0L299.4,155.6z" fill="#3bf67f"/>
<path d="M329.8,165.9L339.6,161.9L329.4,153.4L319.5,157.7z" fill="#28f48d"/>
<path d="M350.0,170.9L359.6,168.4L349.3,159.1L339.6,161.9z" fill="#19f3b4"/>
<path d="M390.0,187.5L399.3,187.8L388.9,177.1L379.5,177.0z" fill="#079eec"/>
<path d="M429.4,213.0L438.3,216.1L427.8,203.7L418.9,200.9z" fill="#0202df"/>
<path d="M158.7,223.1L169.0,205.6L159.8,202.9L149.5,220.5z" fill="#7373f9"/>
<path d="M178.4,208.8L188.8,192.9L179.4,189.6L169.0,205.6z" fill="#7390f9"/>
<path d="M198.3,196.7L208.7,182.4L199.1,178.4L188.8,192.9z" fill="#73c3f9"/>
<path d="M218.4,186.9L228.7,174.2L219.0,169.5L208.7,182.4z" fill="#73ecf9"/>
<path d="M238.5,179.3L248.9,168.1L239.0,162.7L228.7,174.2z" fill="#73f9e1"/>
<path d="M258.8,174.0L269.1,164.2L259.1,158.2L248.9,168.1z" fill="#72f9c6"/>
<path d="M279.1,170.8L289.3,162.6L279.2,155.8L269.1,164.2z" fill="#61f8ae"/>
<path d="M299.5,169.9L309.6,163.1L299.4,155.6L289.3,162.6z" fill="#4df7a0"/>
<path d="M319.8,171.2L329.8,165.9L319.5,157.7L309.6,163.1z" fill="#38f6a2"/>
<path d="M340.1,174.7L350.0,170.9L339.6,161.9L329.8,165.9z" fill="#26f4ba"/>
<path d="M360.4,180.5L370.0,178.1L359.6,168.4L350.0,170.9z" fill="#17f2ec"/>
<path d="M380.5,188.4L390.0,187.5L379.5,177.0L370.0,178.1z" fill="#0db7f0"/>
<path d="M400.5,198.6L409.8,199.2L399.3,187.8L390.0,187.5z" fill="#0763ec"/>
<path d="M420.3,211.1L429.4,213.0L418.9,200.9L409.8,199.2z" fill="#0303e6"/>
<path d="M168.0,226.0L178.4,208.8L169.0,205.6L158.7,223.1z" fill="#7373f9"/>
<path d="M187.9,212.4L198.3,196.7L188.8,192.9L178.4,208.8z" fill="#738ff9"/>
<path d="M207.9,201.1L218.4,186.9L208.7,182.4L198.3,196.7z" fill="#73bff9"/>
<path d="M228.1,191.9L238.5,179.3L228.7,174.2L218.4,186.9z" fill="#73e5f9"/>
<path d="M248.5,185.0L258.8,174.0L248.9,168.1L238.5,179.3z" fill="#73f9ee"/>
<path d="M268.9,180.3L279.1,170.8L269.1,164.2L258.8,174.0z" fill="#71f9d6"/>
<path d="M289.3,177.9L299.5,169.9L289.3,162.6L279.1,170.8z" fill="#5ff8c4"/>
<path d="M309.8,177.7L319.8,171.2L309.6,163.1L299.5,169.9z" fill="#4af7be"/>
<path d="M330.2,179.8L340.1,174.7L329.8,165.9L319.8,171.2z" fill="#35f6c9"/>
<path d="M350.6,184.0L360.4,180.5L350.0,170.9L340.1,174.7z" fill="#23f4ec"/>
<path d="M370.9,190.6L380.5,188.4L370.0,178.1L360.4,180.5z" fill="#15c7f2"/>
<path d="M391.0,199.3L400.5,198.6L390.0,187.5L380.5,188.4z" fill="#0c7fef"/>
<path d="M411.1,210.3L420.3,211.1L409.8,199.2L400.5,198.6z" fill="#0625eb"/>
<path d="M177.4,229.5L187.9,212.4L178.4,208.8L168.0,226.0z" fill="#7373f9"/>
<path d="M401.6,210.8L411.1,210.3L400.5,198.6L391.0,199.3z" fill="#0b44ee"/>
<path d="M197.5,216.6L207.9,201.1L198.3,196.7L187.9,212.4z" fill="#738df9"/>
<path d="M217.7,205.8L228.1,191.9L218.4,186.9L207.9,201.1z" fill="#73baf9"/>
<path d="M238.1,197.4L248.5,185.0L238.5,179.3L228.1,191.9z" fill="#73ddf9"/>
<path d="M258.5,191.2L268.9,180.3L258.8,174.0L248.5,185.0z" fill="#73f6f9"/>
<path d="M279.0,187.2L289.3,177.9L279.1,170.8L268.9,180.3z" fill="#70f9e9"/>
<path d="M299.6,185.5L309.8,177.7L299.5,169.9L289.3,177.9z" fill="#5df8de"/>
<path d="M320.1,186.1L330.2,179.8L319.8,171.2L309.8,177.7z" fill="#47f7e0"/>
<path d="M340.6,188.9L350.6,184.0L340.1,174.7L330.2,179.8z" fill="#32f5f5"/>
<path d="M361.1,193.9L370.9,190.6L360.4,180.5L350.6,184.0z" fill="#20cef4"/>
<path d="M381.4,201.2L391.0,199.3L380.5,188.4L370.9,190.6z" fill="#1393f1"/>
<path d="M187.0,233.5L197.5,216.6L187.9,212.4L177.4,229.5z" fill="#7373f9"/>
<path d="M207.2,221.2L217.7,205.8L207.9,201.1L197.5,216.6z" fill="#7389f9"/>
<path d="M227.6,211.1L238.1,197.4L228.1,191.9L217.7,205.8z" fill="#73b2f9"/>
<path d="M248.1,203.4L258.5,191.2L248.5,185.0L238.1,197.4z" fill="#73d2f9"/>
<path d="M268.7,197.9L279.0,187.2L268.9,180.3L258.5,191.2z" fill="#73e8f9"/>
<path d="M289.3,194.7L299.6,185.5L289.3,177.9L279.0,187.2z" fill="#6ff4f9"/>
<path d="M309.9,193.7L320.1,186.1L309.8,177.7L299.6,185.5z" fill="#5af5f8"/>
<path d="M330.6,195.0L340.6,188.9L330.2,179.8L320.1,186.1z" fill="#43e9f6"/>
<path d="M351.2,198.5L361.1,193.9L350.6,184.0L340.6,188.9z" fill="#2fcdf5"/>
<path d="M371.7,204.4L381.4,201.2L370.9,190.6L361.1,193.9z" fill="#1e9ef3"/>
<path d="M392.1,212.5L401.6,210.8L391.0,199.3L381.4,201.2z" fill="#125af1"/>
<path d="M196.7,237.9L207.2,221.2L197.5,216.6L187.0,233.5z" fill="#7373f9"/>
<path d="M217.1,226.3L227.6,211.1L217.7,205.8L207.2,221.2z" fill="#7383f9"/>
<path d="M237.6,217.0L248.1,203.4L238.1,197.4L227.6,211.1z" fill="#73a9f9"/>
<path d="M258.2,209.9L268.7,197.9L258.5,191.2L248.1,203.4z" fill="#73c5f9"/>
<path d="M278.9,205.1L289.3,194.7L279.0,187.2L268.7,197.9z" fill="#73d8f9"/>
<path d="M299.7,202.6L309.9,193.7L299.6,185.5L289.3,194.7z" fill="#6ce0f9"/>
<path d="M320.4,202.4L330.6,195.0L320.1,186.1L309.9,193.7z" fill="#56daf8"/>
<path d="M341.1,204.4L351.2,198.5L340.6,188.9L330.6,195.0z" fill="#40c6f6"/>
<path d="M361.8,208.8L371.7,204.4L361.1,193.9L351.2,198.5z" fill="#2ca1f5"/>
<path d="M382.4,215.4L392.1,212.5L381.4,201.2L371.7,204.4z" fill="#1b69f3"/>
<path d="M206.5,242.9L217.1,226.3L207.2,221.2L196.7,237.9z" fill="#7373f9"/>
<path d="M227.0,231.9L237.6,217.0L227.6,211.1L217.1,226.3z" fill="#737af9"/>
<path d="M247.7,223.3L258.2,209.9L248.1,203.4L237.6,217.0z" fill="#739ef9"/>
<path d="M268.4,217.0L278.9,205.1L268.7,197.9L258.2,209.9z" fill="#73b7f9"/>
<path d="M289.3,212.9L299.7,202.6L289.3,194.7L278.9,205.1z" fill="#73c6f9"/>
<path d="M310.1,211.1L320.4,202.4L309.9,193.7L299.7,202.6z" fill="#6ac9f9"/>
<path d="M331.0,211.7L341.1,204.4L330.6,195.0L320.4,202.4z" fill="#53bbf7"/>
<path d="M351.8,214.5L361.8,208.8L351.2,198.5L341.1,204.4z" fill="#3c9ff6"/>
<path d="M372.5,219.6L382.4,215.4L371.7,204.4L361.8,208.8z" fill="#2871f4"/>
<path d="M216.4,248.3L227.0,231.9L217.1,226.3L206.5,242.9z" fill="#7373f9"/>
<path d="M237.1,238.1L247.7,223.3L237.6,217.0L227.0,231.9z" fill="#7373f9"/>
<path d="M257.9,230.2L268.4,217.0L258.2,209.9L247.7,223.3z" fill="#7390f9"/>
<path d="M278.8,224.5L289.3,212.9L278.9,205.1L268.4,217.0z" fill="#73a6f9"/>
<path d="M299.7,221.2L310.1,211.1L299.7,202.6L289.3,212.9z" fill="#73b3f9"/>
<path d="M320.7,220.2L331.0,211.7L320.4,202.4L310.1,211.1z" fill="#66aff8"/>
<path d="M341.6,221.5L351.8,214.5L341.1,204.4L331.0,211.7z" fill="#4f99f7"/>
<path d="M362.5,225.1L372.5,219.6L361.8,208.8L351.8,214.5z" fill="#3874f6"/>
<path d="M226.5,254.3L237.1,238.1L227.0,231.9L216.4,248.3z" fill="#7373f9"/>
<path d="M247.3,244.8L257.9,230.2L247.7,223.3L237.1,238.1z" fill="#7373f9"/>
<path d="M268.2,237.6L278.8,224.5L268.4,217.0L257.9,230.2z" fill="#7381f9"/>
<path d="M289.3,232.7L299.7,221.2L289.3,212.9L278.8,224.5z" fill="#7394f9"/>
<path d="M310.3,230.1L320.7,220.2L310.1,211.1L299.7,221.2z" fill="#739df9"/>
<path d="M331.4,229.8L341.6,221.5L331.0,211.7L320.7,220.2z" fill="#6391f8"/>
<path d="M352.4,231.9L362.5,225.1L351.8,214.5L341.6,221.5z" fill="#4b73f7"/>
<path d="M236.6,260.8L247.3,244.8L237.1,238.1L226.5,254.3z" fill="#7373f9"/>
<path d="M257.6,252.0L268.2,237.6L257.9,230.2L247.3,244.8z" fill="#7373f9"/>
<path d="M278.7,245.5L289.3,232.7L278.8,224.5L268.2,237.6z" fill="#7373f9"/>
<path d="M299.8,241.4L310.3,230.1L299.7,221.2L289.3,232.7z" fill="#7380f9"/>
<path d="M321.0,239.5L331.4,229.8L320.7,220.2L310.3,230.1z" fill="#7385f9"/>
<path d="M342.1,240.0L352.4,231.9L341.6,221.5L331.4,229.8z" fill="#5f70f8"/>
<path d="M246.9,267.9L257.6,252.0L247.3,244.8L236.6,260.8z" fill="#7373f9"/>
<path d="M268.0,259.8L278.7,245.5L268.2,237.6L257.6,252.0z" fill="#7373f9"/>
<path d="M289.2,254.0L299.8,241.4L289.3,232.7L278.7,245.5z" fill="#7373f9"/>
<path d="M310.5,250.6L321.0,239.5L310.3,230.1L299.8,241.4z" fill="#7373f9"/>
<path d="M331.7,249.6L342.1,240.0L331.4,229.8L321.0,239.5z" fill="#7272f9"/>
<path d="M257.3,275.5L268.0,259.8L257.6,252.0L246.9,267.9z" fill="#7373f9"/>
<path d="M278.6,268.1L289.2,254.0L278.7,245.5L268.0,259.8z" fill="#7373f9"/>
<path d="M299.9,263.1L310.5,250.6L299.8,241.4L289.2,254.0z" fill="#7373f9"/>
<path d="M321.2,260.5L331.7,249.6L321.0,239.5L310.5,250.6z" fill="#7373f9"/>
<path d="M267.8,283.7L278.6,268.1L268.0,259.8L257.3,275.5z" fill="#7373f9"/>
<path d="M289.2,277.1L299.9,263.1L289.2,254.0L278.6,268.1z" fill="#7373f9"/>
<path d="M310.7,272.8L321.2,260.5L310.5,250.6L299.9,263.1z" fill="#7373f9"/>
<path d="M278.5,292.4L289.2,277.1L278.6,268.1L267.8,283.7z" fill="#7373f9"/>
<path d="M300.0,286.5L310.7,272.8L299.9,263.1L289.2,277.1z" fill="#7373f9"/>
<path d="M289.2,301.8L300.0,286.5L289.2,277.1L278.5,292.4z" fill="#7373f9"/>
</g>
<g fill="#111">
<circle cx="91.2" cy="264.5" r="2.1"/>
<circle cx="89.7" cy="235.3" r="2.1"/>
<circle cx="88.3" cy="206.1" r="2.1"/>
<circle cx="86.8" cy="176.8" r="2.1"/>
<circle cx="85.4" cy="147.6" r="2.1"/>
<circle cx="83.9" cy="118.4" r="2.1"/>
<circle cx="82.5" cy="89.2" r="2.1"/>
<circle cx="81.0" cy="60.0" r="2.1"/>
<circle cx="94.3" cy="327.0" r="2.1"/>
<circle cx="133.3" cy="345.8" r="2.1"/>
<circle cx="328.2" cy="402.1" r="2.1"/>
<circle cx="172.3" cy="364.6" r="2.1"/>
<circle cx="367.1" cy="383.3" r="2.1"/>
<circle cx="211.2" cy="383.3" r="2.1"/>
<circle cx="406.1" cy="364.4" r="2.1"/>
<circle cx="250.2" cy="402.1" r="2.1"/>
<circle cx="445.0" cy="345.6" r="2.1"/>
<circle cx="289.2" cy="420.9" r="2.1"/>
<circle cx="484.0" cy="326.8" r="2.1"/>
</g>
<g font-size="11.8" fill="#1e1e1e" stroke="#1e1e1e" stroke-width="0.22">
<text x="63.1" y="261.4" font-size="12.2" textLength="21.4" lengthAdjust="spacingAndGlyphs">1.89</text>
<text x="67.4" y="232.2" font-size="12.2" textLength="15.6" lengthAdjust="spacingAndGlyphs">1.9</text>
<text x="60.2" y="203.0" font-size="12.2" textLength="21.4" lengthAdjust="spacingAndGlyphs">1.91</text>
<text x="58.7" y="173.7" font-size="12.2" textLength="21.4" lengthAdjust="spacingAndGlyphs">1.92</text>
<text x="57.3" y="144.5" font-size="12.2" textLength="21.4" lengthAdjust="spacingAndGlyphs">1.93</text>
<text x="55.8" y="115.3" font-size="12.2" textLength="21.4" lengthAdjust="spacingAndGlyphs">1.94</text>
<text x="54.4" y="86.1" font-size="12.2" textLength="21.4" lengthAdjust="spacingAndGlyphs">1.95</text>
<text x="52.9" y="56.9" font-size="12.2" textLength="21.4" lengthAdjust="spacingAndGlyphs">1.96</text>
<text x="88.0" y="339.0" text-anchor="end">418.302</text>
<text x="125.8" y="357.8" text-anchor="end">398.302</text>
<text x="164.8" y="376.6" text-anchor="end">378.302</text>
<text x="203.7" y="395.3" text-anchor="end">358.302</text>
<text x="242.7" y="414.1" text-anchor="end">338.302</text>
<text x="281.7" y="432.9" text-anchor="end">318.302</text>
<text x="296.4" y="432.9">8.84104</text>
<text x="335.4" y="414.1">9.24104</text>
<text x="374.3" y="395.3">9.64104</text>
<text x="413.3" y="376.4">10.041</text>
<text x="453.0" y="357.6">10.441</text>
<text x="492.0" y="338.8">10.841</text>
<text x="88" y="412" textLength="56.5" lengthAdjust="spacingAndGlyphs">C: Lc (mm)</text>
<text x="422.4" y="412" textLength="82.5" lengthAdjust="spacingAndGlyphs">A: θd (degrees)</text>
<text transform="translate(20.2,218.5) rotate(-90)" font-size="12.4" textLength="41.8" lengthAdjust="spacingAndGlyphs">Vth/V∞</text>
</g>
<text x="270.7" y="460.3" font-size="18" fill="#1e1e1e" stroke="#1e1e1e" stroke-width="0.25" textLength="60.3" lengthAdjust="spacingAndGlyphs">Vth/V∞</text>
<defs><radialGradient id="rg" gradientUnits="userSpaceOnUse" cx="0" cy="0" r="1" gradientTransform="matrix(360.3735 -95.6780 96.1269 -606.5166 372.720 476.050)"><stop offset="0.0000" stop-color="#b6ff00"/><stop offset="0.0125" stop-color="#b6ff00"/><stop offset="0.0250" stop-color="#b5ff00"/><stop offset="0.0375" stop-color="#b4ff00"/><stop offset="0.0500" stop-color="#b3ff00"/><stop offset="0.0625" stop-color="#b1ff00"/><stop offset="0.0750" stop-color="#afff00"/><stop offset="0.0875" stop-color="#adff00"/><stop offset="0.1000" stop-color="#aaff00"/><stop offset="0.1125" stop-color="#a7ff00"/><stop offset="0.1250" stop-color="#a3ff00"/><stop offset="0.1375" stop-color="#9fff00"/><stop offset="0.1500" stop-color="#9bff00"/><stop offset="0.1625" stop-color="#96ff00"/><stop offset="0.1750" stop-color="#91ff00"/><stop offset="0.1875" stop-color="#8cff00"/><stop offset="0.2000" stop-color="#86ff00"/><stop offset="0.2125" stop-color="#80ff00"/><stop offset="0.2250" stop-color="#79ff00"/><stop offset="0.2375" stop-color="#72ff00"/><stop offset="0.2500" stop-color="#6bff00"/><stop offset="0.2625" stop-color="#63ff00"/><stop offset="0.2750" stop-color="#5bff00"/><stop offset="0.2875" stop-color="#52ff00"/><stop offset="0.3000" stop-color="#4aff00"/><stop offset="0.3125" stop-color="#40ff00"/><stop offset="0.3250" stop-color="#37ff00"/><stop offset="0.3375" stop-color="#2dff00"/><stop offset="0.3500" stop-color="#22ff00"/><stop offset="0.3625" stop-color="#18ff00"/><stop offset="0.3750" stop-color="#0dff00"/><stop offset="0.3875" stop-color="#01ff00"/><stop offset="0.4000" stop-color="#00ff00"/><stop offset="0.4125" stop-color="#00ff08"/><stop offset="0.4250" stop-color="#00ff1a"/><stop offset="0.4375" stop-color="#00ff2d"/><stop offset="0.4500" stop-color="#00ff40"/><stop offset="0.4625" stop-color="#00ff53"/><stop offset="0.4750" stop-color="#00ff68"/><stop offset="0.4875" stop-color="#00ff7c"/><stop offset="0.5000" stop-color="#00ff92"/><stop offset="0.5125" stop-color="#00ffa7"/><stop offset="0.5250" stop-color="#00ffbe"/><stop offset="0.5375" stop-color="#00ffd5"/><stop offset="0.5500" stop-color="#00ffec"/><stop offset="0.5625" stop-color="#00fbff"/><stop offset="0.5750" stop-color="#00eaff"/><stop offset="0.5875" stop-color="#00d9ff"/><stop offset="0.6000" stop-color="#00c7ff"/><stop offset="0.6125" stop-color="#00b5ff"/><stop offset="0.6250" stop-color="#00a3ff"/><stop offset="0.6375" stop-color="#0090ff"/><stop offset="0.6500" stop-color="#007dff"/><stop offset="0.6625" stop-color="#0069ff"/><stop offset="0.6750" stop-color="#0055ff"/><stop offset="0.6875" stop-color="#0041ff"/><stop offset="0.7000" stop-color="#002cff"/><stop offset="0.7125" stop-color="#0017ff"/><stop offset="0.7250" stop-color="#0001ff"/><stop offset="0.7375" stop-color="#0000ff"/><stop offset="0.7500" stop-color="#0000ff"/><stop offset="0.7625" stop-color="#0000ff"/><stop offset="0.7750" stop-color="#0000ff"/><stop offset="0.7875" stop-color="#0000ff"/><stop offset="0.8000" stop-color="#0000ff"/><stop offset="0.8125" stop-color="#0000ff"/><stop offset="0.8250" stop-color="#0000ff"/><stop offset="0.8375" stop-color="#0000ff"/><stop offset="0.8500" stop-color="#0000ff"/><stop offset="0.8625" stop-color="#0000ff"/><stop offset="0.8750" stop-color="#0000ff"/><stop offset="0.8875" stop-color="#0000ff"/><stop offset="0.9000" stop-color="#0000ff"/><stop offset="0.9125" stop-color="#0000ff"/><stop offset="0.9250" stop-color="#0000ff"/><stop offset="0.9375" stop-color="#0000ff"/><stop offset="0.9500" stop-color="#0000ff"/><stop offset="0.9625" stop-color="#0000ff"/><stop offset="0.9750" stop-color="#0000ff"/><stop offset="0.9875" stop-color="#0000ff"/><stop offset="1.0000" stop-color="#0000ff"/></radialGradient><clipPath id="pc"><rect x="86.7" y="468.2" width="428.3" height="426.3"/></clipPath></defs>
<rect x="86.7" y="468.2" width="428.3" height="426.3" fill="url(#rg)"/>
<g clip-path="url(#pc)" fill="none" stroke="#000" stroke-width="1.3" stroke-opacity="0.62">
<circle r="1" transform="matrix(118.0015 -31.3290 31.4760 -198.5991 372.720 476.050)" vector-effect="non-scaling-stroke"/>
<circle r="1" transform="matrix(193.9544 -51.4942 51.7358 -326.4295 372.720 476.050)" vector-effect="non-scaling-stroke"/>
<circle r="1" transform="matrix(247.6131 -65.7405 66.0489 -416.7383 372.720 476.050)" vector-effect="non-scaling-stroke"/>
<circle r="1" transform="matrix(291.5582 -77.4077 77.7709 -490.6990 372.720 476.050)" vector-effect="non-scaling-stroke"/>
<circle r="1" transform="matrix(329.6970 -87.5335 87.9441 -554.8875 372.720 476.050)" vector-effect="non-scaling-stroke"/>
</g>
<rect x="86.7" y="468.2" width="428.3" height="426.3" fill="none" stroke="#001800" stroke-opacity="0.55" stroke-width="1"/>
<path d="M76.2 894.5H86.7M86.7 894.5V904.5M76.2 809.2H86.7M172.4 894.5V904.5M76.2 724.0H86.7M258.0 894.5V904.5M76.2 638.7H86.7M343.7 894.5V904.5M76.2 553.5H86.7M429.3 894.5V904.5M76.2 468.2H86.7M515.0 894.5V904.5" stroke="#222" stroke-width="1" fill="none"/>
<g font-size="11" fill="#1e1e1e" stroke="#1e1e1e" stroke-width="0.22">
<text x="72.4" y="898.5" text-anchor="end">318.302</text>
<text x="72.4" y="813.2" text-anchor="end">338.302</text>
<text x="72.4" y="728.0" text-anchor="end">358.302</text>
<text x="72.4" y="642.7" text-anchor="end">378.302</text>
<text x="72.4" y="557.5" text-anchor="end">398.302</text>
<text x="72.4" y="472.2" text-anchor="end">418.302</text>
<text x="86.7" y="919.5" text-anchor="middle">8.84104</text>
<text x="172.4" y="919.5" text-anchor="middle">9.24104</text>
<text x="258.0" y="919.5" text-anchor="middle">9.64104</text>
<text x="343.7" y="919.5" text-anchor="middle" textLength="30.5" lengthAdjust="spacingAndGlyphs">10.041</text>
<text x="429.3" y="919.5" text-anchor="middle" textLength="30.5" lengthAdjust="spacingAndGlyphs">10.441</text>
<text x="515.0" y="919.5" text-anchor="middle" textLength="30.5" lengthAdjust="spacingAndGlyphs">10.841</text>
<text transform="translate(22.5,713.6) rotate(-90)" font-size="13.6" textLength="66.7" lengthAdjust="spacingAndGlyphs">C: Lc (mm)</text>
<text x="251.3" y="953.6" font-size="14" textLength="97.9" lengthAdjust="spacingAndGlyphs">A: θd (degrees)</text>
</g>
<g font-size="8" text-anchor="middle" fill="#222" stroke="#222" stroke-width="0.25">
<rect x="87.8" y="474.0" width="18.6" height="10" fill="#fff" stroke="#223" stroke-width="0.8"/>
<text x="97.1" y="481.9">1.91</text>
<rect x="345.2" y="662.0" width="18.6" height="10" fill="#fff" stroke="#223" stroke-width="0.8"/>
<text x="354.5" y="669.9">1.94</text>
<rect x="111.7" y="709.0" width="18.6" height="10" fill="#fff" stroke="#223" stroke-width="0.8"/>
<text x="121.0" y="716.9">1.92</text>
<rect x="265.2" y="799.0" width="18.6" height="10" fill="#fff" stroke="#223" stroke-width="0.8"/>
<text x="274.5" y="806.9">1.93</text>
<rect x="421.7" y="804.5" width="18.6" height="10" fill="#fff" stroke="#223" stroke-width="0.8"/>
<text x="431.0" y="812.4">1.92</text>
<rect x="462.7" y="829.5" width="18.6" height="10" fill="#fff" stroke="#223" stroke-width="0.8"/>
<text x="472.0" y="837.4">1.91</text>
<rect x="91.7" y="847.5" width="18.6" height="10" fill="#fff" stroke="#223" stroke-width="0.8"/>
<text x="101.0" y="855.4">1.91</text>
<rect x="490.9" y="859.2" width="15.4" height="10" fill="#fff" stroke="#223" stroke-width="0.8"/>
<text x="498.6" y="867.1">1.9</text>
</g>
<path d="M4 965.3H546" stroke="#e3e3e3" stroke-width="1.6"/>
</svg>
</body></html>
